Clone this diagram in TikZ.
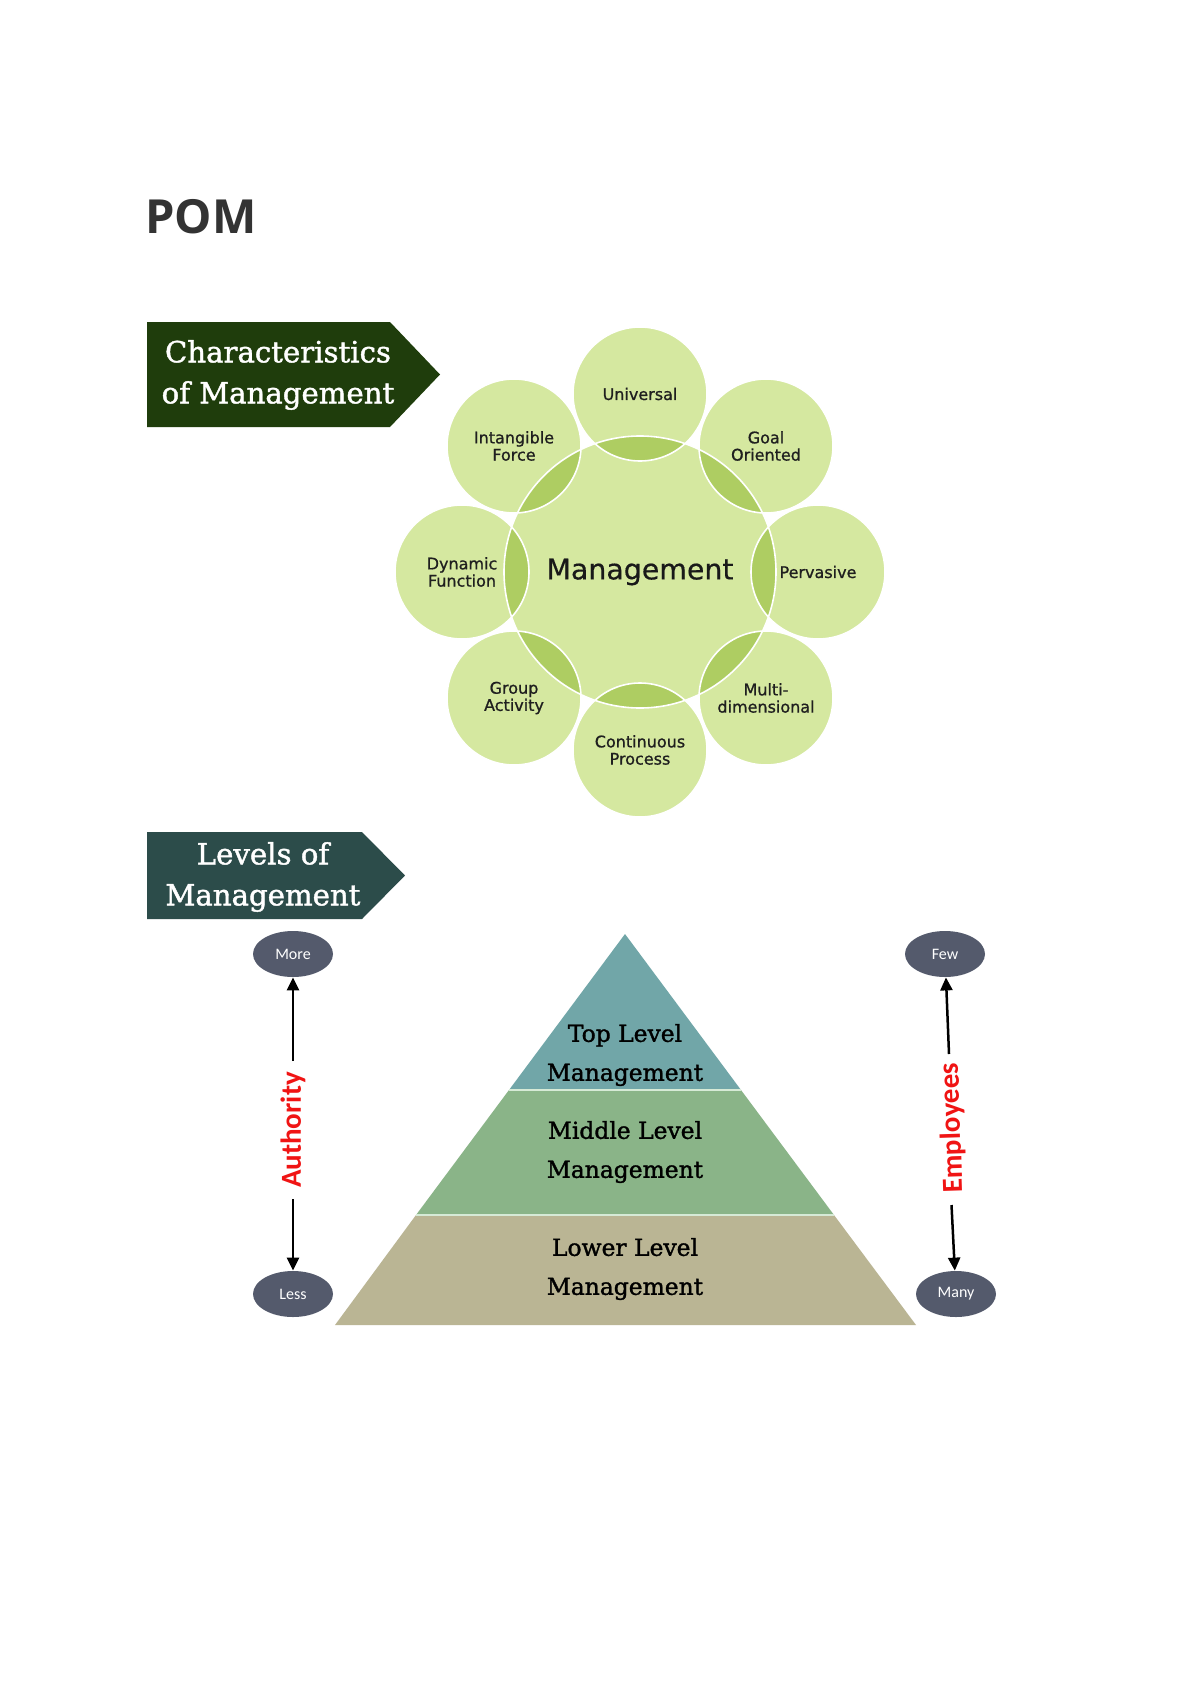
\documentclass[tikz,border=0pt]{standalone}
\usepackage{fontspec}
\usetikzlibrary{arrows.meta,shapes.geometric}
\newfontfamily\slabfont{DejaVu Serif}[FakeBold=1.4]
\newfontfamily\circfont{DejaVu Sans}[FakeBold=0.9]
\newfontfamily\hubfont{DejaVu Sans}[FakeBold=0.4]
\newfontfamily\titlefont{Open Sans}
\newfontfamily\calfont{Carlito}
\definecolor{bannerA}{RGB}{31,61,12}
\definecolor{bannerB}{RGB}{44,76,74}
\definecolor{leafl}{RGB}{213,232,160}
\definecolor{leafd}{RGB}{174,205,98}
\definecolor{pyrtop}{RGB}{113,166,168}
\definecolor{pyrmid}{RGB}{138,180,136}
\definecolor{pyrlow}{RGB}{186,181,148}
\definecolor{pill}{RGB}{84,90,108}
\definecolor{redlab}{RGB}{240,20,20}
\definecolor{divl}{RGB}{214,234,214}
\pgfdeclarelayer{bg}
\pgfdeclarelayer{lensl}
\pgfsetlayers{bg,lensl,main}
\begin{document}
\begin{tikzpicture}[x=0.5pt,y=-0.5pt,
  outer/.style={circle, draw=white, line width=0.8pt, minimum size=67pt, inner sep=0pt,
    align=center, text=black!88, font=\circfont\fontsize{8}{8.6}\selectfont},
  hub/.style={circle, draw=white, line width=0.8pt, minimum size=136pt, inner sep=0pt,
    text=black!90, font=\hubfont\fontsize{14.2}{16}\selectfont},
  bantext/.style={align=center, text=white, font=\slabfont\fontsize{14.6}{20.5}\selectfont},
  pyrtext/.style={align=center, text=black, font=\slabfont\fontsize{11.7}{19.5}\selectfont},
  pillnode/.style={ellipse, fill=pill, minimum width=40pt, minimum height=23pt, inner sep=0pt,
    text=white, font=\calfont\fontsize{8}{9}\selectfont},
  sidelab/.style={text=redlab, inner sep=0pt, font=\calfont\bfseries\fontsize{14.5}{16}\selectfont},
  conn/.style={line width=1.25pt, -{Triangle[length=6.5pt,width=6pt]}}
]
\useasboundingbox (0,0) rectangle (1200,1691);
\begin{pgfonlayer}{bg}
  \fill[white] (0,0) rectangle (1200,1691);
\end{pgfonlayer}

% title
\node[anchor=base west, inner sep=0pt, text=black!80, font=\titlefont\bfseries\fontsize{23.5}{26}\selectfont] (pom) at (145,233) {POM};

% banner 1
\fill[bannerA] (147,322) -- (390,322) -- (440,374.5) -- (390,427) -- (147,427) -- cycle;
\node[bantext] (b1) at (278,375) {Characteristics\\of Management};

% circles
\node[hub] (m) at (640,572) {Management};
\node[outer] (c1) at (640,394) {Universal};
\node[outer] (c2) at (766,446) {Goal\\Oriented};
\node[outer] (c3) at (818,572) {Pervasive};
\node[outer] (c4) at (766,698) {Multi-\\dimensional};
\node[outer] (c5) at (640,750) {Continuous\\Process};
\node[outer] (c6) at (514,698) {Group\\Activity};
\node[outer] (c7) at (462,572) {Dynamic\\Function};
\node[outer] (c8) at (514,446) {Intangible\\Force};
\begin{pgfonlayer}{bg}
  \fill[leafl] (m.center) circle[radius=68pt];
  \foreach \c in {c1,c2,c3,c4,c5,c6,c7,c8} { \fill[leafl] (\c.center) circle[radius=33.5pt]; }
\end{pgfonlayer}
\begin{pgfonlayer}{lensl}
  \foreach \c in {c1,c2,c3,c4,c5,c6,c7,c8} {
    \begin{scope}
      \clip (m.center) circle[radius=68pt];
      \fill[leafd] (\c.center) circle[radius=33.5pt];
    \end{scope}
  }
\end{pgfonlayer}

% banner 2
\fill[bannerB] (147,832) -- (362,832) -- (405,875.5) -- (362,919) -- (147,919) -- cycle;
\node[bantext] (b2) at (263,877) {Levels of\\Management};

% pyramid
\fill[pyrtop] (625,934) -- (741,1090) -- (509,1090) -- cycle;
\fill[pyrmid] (509,1090) -- (741,1090) -- (834,1215) -- (416,1215) -- cycle;
\fill[pyrlow] (416,1215) -- (834,1215) -- (916,1325) -- (335,1325) -- cycle;
\draw[divl, line width=1.3pt] (509,1090) -- (741,1090);
\draw[divl, line width=1.3pt] (416,1215) -- (834,1215);
\node[pyrtext] (p1) at (625,1055) {Top Level\\Management};
\node[pyrtext] (p2) at (625,1152) {Middle Level\\Management};
\node[pyrtext] (p3) at (625,1269) {Lower Level\\Management};

% left scale
\node[pillnode] (more) at (293,954) {More};
\node[pillnode] (less) at (293,1294) {Less};
\node[sidelab, rotate=90] (auth) at (293,1130) {Authority};
\coordinate (aT) at (293,1061);
\coordinate (aB) at (293,1199);
\draw[conn] (aT) -- (more);
\draw[conn] (aB) -- (less);

% right scale
\node[pillnode] (few) at (945,954) {Few};
\node[pillnode] (many) at (956,1294) {Many};
\node[sidelab, rotate=91.85] (emp) at (952.5,1128) {Employees};
\coordinate (eT) at (949,1054);
\coordinate (eB) at (951.5,1205);
\draw[conn] (eT) -- (few);
\draw[conn] (eB) -- (many);
\end{tikzpicture}
\end{document}
